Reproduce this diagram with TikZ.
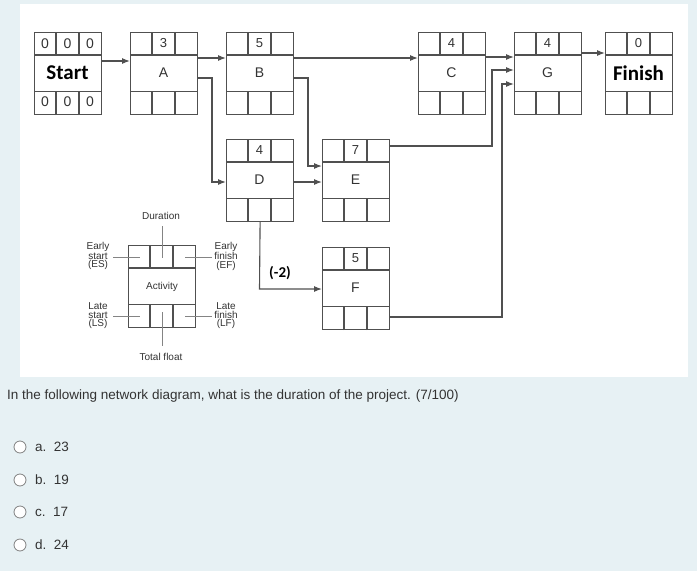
\documentclass[tikz,border=0pt]{standalone}
\usepackage{fontspec}
\setmainfont{Liberation Sans}
\newfontfamily\carl{Carlito}
\usetikzlibrary{arrows.meta,calc}
\definecolor{bgc}{HTML}{E7F1F4}
\definecolor{ln}{HTML}{505050}
\definecolor{tx}{HTML}{333333}
\tikzset{
  boxnode/.style={draw=ln,line width=1.2pt,minimum width=67pt,minimum height=82pt,inner sep=0pt,anchor=north west},
  conn/.style={draw=ln,line width=1.1pt,-{Latex[length=8pt,width=6pt]}},
  leg/.style={draw=ln!70,line width=0.9pt},
  lbl/.style={font=\fontsize{10}{8.5}\selectfont,text=tx,align=center,inner sep=0pt},
}
% \actbox{name}{x}{y}{top middle}{middle}
\newcommand{\actbox}[5]{%
  \node[boxnode] (#1) at (#2,#3) {};
  \draw[ln,line width=1.2pt] ($(#1.north west)+(0,23)$) -- ($(#1.north east)+(0,23)$)
     ($(#1.south west)+(0,-24)$) -- ($(#1.south east)+(0,-24)$)
     ($(#1.north west)+(22,0)$) -- ($(#1.north west)+(22,23)$)
     ($(#1.north west)+(45,0)$) -- ($(#1.north west)+(45,23)$)
     ($(#1.south west)+(22,0)$) -- ($(#1.south west)+(22,-24)$)
     ($(#1.south west)+(45,0)$) -- ($(#1.south west)+(45,-24)$);
  \node[font=\fontsize{13}{13}\selectfont,text=tx] (#1t) at ($(#1.north west)+(33.5,11.5)$) {#4};
  \node[text=tx] (#1m) at ($(#1.north west)+(33.5,41)$) {#5};
}
\begin{document}
\begin{tikzpicture}[x=1pt,y=-1pt]
\fill[bgc] (0,0) rectangle (697,571);
\fill[white] (20,4) rectangle (688,377);
\useasboundingbox (0,0) rectangle (697,571);

\actbox{S}{34}{32}{}{}
\actbox{A}{130}{32}{3}{\fontsize{14}{14}\selectfont A}
\actbox{B}{226}{32}{5}{\fontsize{14}{14}\selectfont B}
\actbox{C}{418}{32}{4}{\fontsize{14}{14}\selectfont C}
\actbox{G}{514}{32}{4}{\fontsize{14}{14}\selectfont G}
\actbox{Fi}{605}{32}{0}{}
\actbox{D}{226}{139}{4}{\fontsize{14}{14}\selectfont D}
\actbox{E}{322}{139}{7}{\fontsize{14}{14}\selectfont E}
\actbox{F}{322}{247}{5}{\fontsize{14}{14}\selectfont F}
\actbox{L}{128}{245}{}{}
% start texts
\node[font=\carl\bfseries\fontsize{21}{21}\selectfont] (st) at (67.5,73) {Start};
\node[font=\carl\bfseries\fontsize{21}{21}\selectfont] (fn) at (638.5,73) {Finish};
\foreach \xx in {45,67.5,90}{
  \node[font=\fontsize{14}{14}\selectfont,text=tx] at (\xx,43.5) {0};
  \node[font=\fontsize{14}{14}\selectfont,text=tx] at (\xx,102) {0};}
\node[lbl] (Lm) at (162,287) {Activity};

% connectors
\draw[conn] (S.east |- 0,61) -- (A.west |- 0,61);
\draw[conn] (A.east |- 0,58) -- (B.west |- 0,58);
\draw[conn] (B.east |- 0,58) -- (C.west |- 0,58);
\draw[conn] (C.east |- 0,57) -- (G.west |- 0,57);
\draw[conn] (G.east |- 0,53) -- (Fi.west |- 0,53);
\draw[conn] (A.east |- 0,78) -- (212,78) -- (212,182) -- (D.west |- 0,182);
\draw[conn] (B.east |- 0,78) -- (308,78) -- (308,166) -- (E.west |- 0,166);
\draw[conn] (D.east |- 0,182) -- (E.west |- 0,182);
\draw[conn] (D.south) -- (259.5,289) -- (F.west |- 0,289);
\draw[conn] (E.east |- 0,146) -- (492,146) -- (492,70) -- (G.west |- 0,70);
\draw[conn] (F.east |- 0,317) -- (502,317) -- (502,84) -- (G.west |- 0,84);
\node[font=\carl\bfseries\fontsize{15}{15}\selectfont] (m2) at (280,273) {(-2)};

% legend
\node[lbl] (ldu) at (161,216) {Duration};
\node[lbl] (les) at (98,256) {Early\\start\\(ES)};
\node[lbl] (lef) at (226,256) {Early\\finish\\(EF)};
\node[lbl] (lls) at (98,316) {Late\\start\\(LS)};
\node[lbl] (llf) at (226,316) {Late\\finish\\(LF)};
\node[lbl] (ltf) at (161,357) {Total float};
\draw[leg] (162,226) -- (162,258);
\draw[leg] (162,312) -- (162,346);
\draw[leg] (113,257) -- (140,257);
\draw[leg] (185,257) -- (212,257);
\draw[leg] (113,316) -- (140,316);
\draw[leg] (185,316) -- (212,316);

% question
\node[anchor=west,font=\fontsize{13.5}{14}\selectfont,text=tx,inner sep=0pt] (q) at (7,396)
  {In the following network diagram, what is the duration of the project. (7/100)};
\foreach \yy/\ll/\vv in {447/a./23,480/b./19,512/c./17,545/d./24}{
  \draw[gray,line width=0.8pt,fill=white] (20,\yy) circle (6);
  \node[anchor=west,font=\fontsize{13.5}{14}\selectfont,text=tx,inner sep=0pt] at (35,\yy) {\ll\ \ \vv};
}
\end{tikzpicture}
\end{document}
